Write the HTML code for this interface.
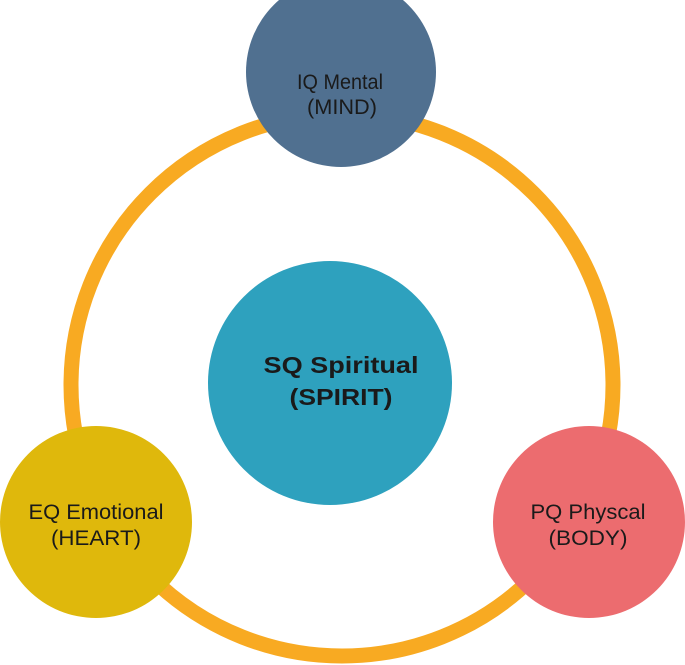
<!DOCTYPE html>
<html><head><style>
html,body{margin:0;padding:0;background:#fff;}
svg{display:block}
text{font-family:"Liberation Sans",sans-serif;fill:#1a1a1a}
</style></head><body>
<svg width="685" height="665" viewBox="0 0 685 665">
<circle cx="342" cy="385" r="271" fill="none" stroke="#f8aa22" stroke-width="15"/>
<circle cx="341" cy="72" r="95" fill="#507090"/>
<circle cx="330" cy="383" r="122" fill="#2ea1be"/>
<circle cx="96" cy="522" r="96" fill="#dfb80c"/>
<circle cx="589" cy="522" r="96" fill="#ec6c6f"/>
<g font-size="21" text-anchor="middle" lengthAdjust="spacingAndGlyphs">
<text x="340" y="89" textLength="86" lengthAdjust="spacingAndGlyphs">IQ Mental</text>
<text x="342" y="114" textLength="70" lengthAdjust="spacingAndGlyphs">(MIND)</text>
<text x="96" y="519" textLength="135" lengthAdjust="spacingAndGlyphs">EQ Emotional</text>
<text x="96" y="545" textLength="90" lengthAdjust="spacingAndGlyphs">(HEART)</text>
<text x="588" y="519" textLength="115" lengthAdjust="spacingAndGlyphs">PQ Physcal</text>
<text x="588" y="545" textLength="79" lengthAdjust="spacingAndGlyphs">(BODY)</text>
</g>
<g font-size="23" font-weight="bold" text-anchor="middle">
<text x="341" y="373" textLength="155" lengthAdjust="spacingAndGlyphs">SQ Spiritual</text>
<text x="341" y="405" textLength="103" lengthAdjust="spacingAndGlyphs">(SPIRIT)</text>
</g>
</svg>
</body></html>
